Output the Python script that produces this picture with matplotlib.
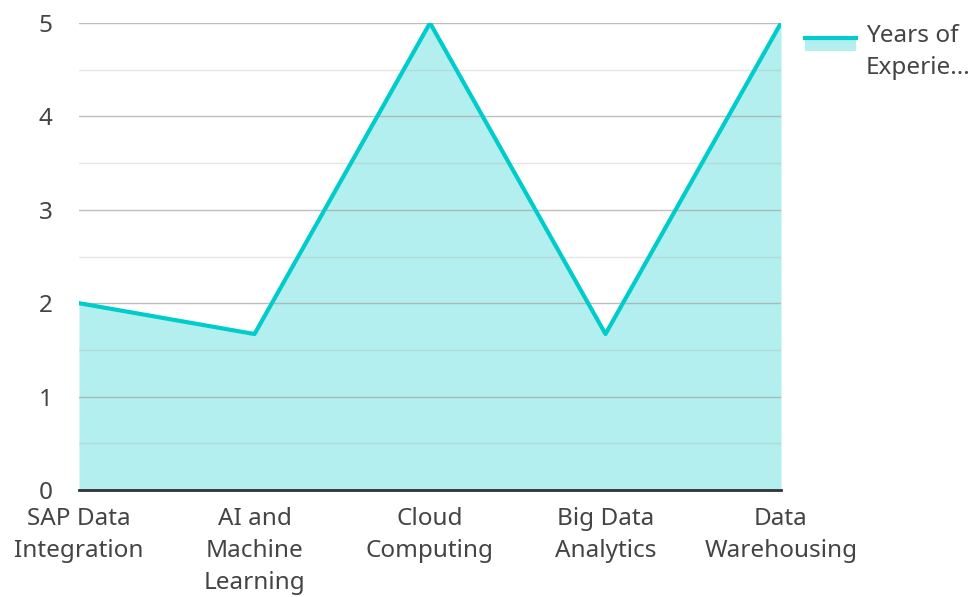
import matplotlib
matplotlib.use('Agg')
from matplotlib import pyplot as plt
from matplotlib.lines import Line2D
from matplotlib.patches import Rectangle
from matplotlib.legend_handler import HandlerBase
from matplotlib.ticker import MultipleLocator

categories = ['SAP Data\nIntegration', 'AI and\nMachine\nLearning', 'Cloud\nComputing',
              'Big Data\nAnalytics', 'Data\nWarehousing']
years = [2, 1.67, 5, 1.67, 5]
series_name = 'Years of\nExperie...'

line_color = '#00CCCC'
fill_color = '#B2EFEE'
text_color = '#444444'


class AreaHandler(HandlerBase):
    # line on top of a filled band, like the area legend swatch
    def create_artists(self, legend, orig_handle, xdescent, ydescent, width, height, fontsize, trans):
        top = height * 1.35
        rect = Rectangle((-xdescent, top - height * 0.75), width, height * 0.75,
                         facecolor=fill_color, edgecolor='none', transform=trans)
        line = Line2D([-xdescent, -xdescent + width], [top, top], color=line_color,
                      linewidth=3, transform=trans)
        return [rect, line]


plt.rcParams['font.family'] = ['Noto Sans', 'DejaVu Sans']

fig = plt.figure(figsize=(9.73, 5.97), dpi=100)
ax = fig.add_axes([79 / 973, 107 / 597, 702 / 973, 467 / 597])

x = list(range(len(categories)))
ax.fill_between(x, 0, years, color=fill_color, linewidth=0, zorder=1)
area_line, = ax.plot(x, years, color=line_color, linewidth=3, zorder=3)

ax.set_xlim(0, len(categories) - 1)
ax.set_ylim(0, 5)
ax.yaxis.set_major_locator(MultipleLocator(1))
ax.yaxis.set_minor_locator(MultipleLocator(0.5))
ax.set_axisbelow(False)
ax.grid(axis='y', which='major', color='#a8a8a8', linewidth=1, alpha=0.75, zorder=2)
ax.grid(axis='y', which='minor', color='#b4b4b4', linewidth=1, alpha=0.35, zorder=2)

ax.set_xticks(x)
ax.set_xticklabels(categories, fontsize=17.5, color=text_color, linespacing=1.44, va='top')
ax.tick_params(axis='x', length=0, pad=12)
ax.tick_params(axis='y', which='both', length=0, pad=19, labelsize=17.5, labelcolor=text_color)

for side in ['top', 'right', 'left']:
    ax.spines[side].set_visible(False)
ax.spines['bottom'].set_color('#333333')
ax.spines['bottom'].set_linewidth(2)
ax.spines['bottom'].set_zorder(4)

leg = fig.legend([area_line], [series_name], handler_map={Line2D: AreaHandler()},
                 loc='upper left', bbox_to_anchor=(805 / 973, 1 - 24 / 597),
                 frameon=False, fontsize=17.5, labelcolor=text_color, handlelength=2.1,
                 handletextpad=0.4, borderaxespad=0, borderpad=0)
for t in leg.get_texts():
    t.set_linespacing(1.44)

fig.savefig('out.png', dpi=100)
